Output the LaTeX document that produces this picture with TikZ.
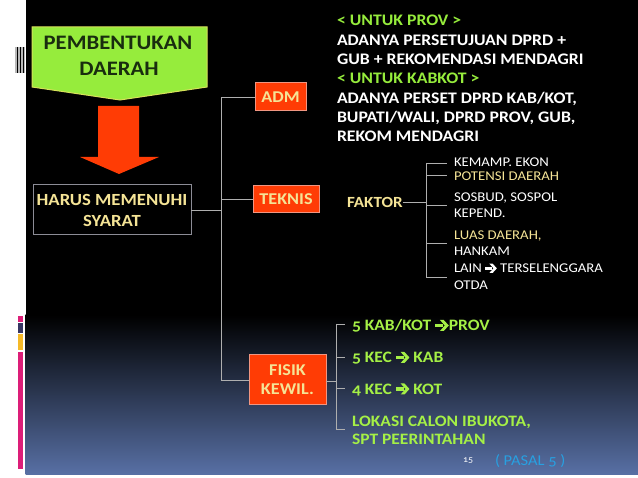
\documentclass[tikz,border=0pt]{standalone}
\usepackage{fontspec}
\setmainfont{Carlito}[FakeStretch=1.1,Numbers=OldStyle]
\usetikzlibrary{calc}
\definecolor{limeA}{RGB}{150,236,60}
\definecolor{limeB}{RGB}{165,240,70}
\definecolor{redA}{RGB}{255,60,5}
\definecolor{paleY}{RGB}{245,228,150}
\definecolor{lineG}{RGB}{175,175,175}
\definecolor{bluePas}{RGB}{40,160,225}
\definecolor{navy}{RGB}{88,112,165}
\definecolor{pinkA}{RGB}{220,30,120}
\definecolor{yelA}{RGB}{245,185,40}
% heavy right arrow drawn inline: #1 scale, #2 colour
\newcommand{\harr}[2]{\tikz[baseline=0pt,x=#1pt,y=#1pt]{\fill[#2] (0,3.8) rectangle (8,7.2);
  \fill[#2] (4.8,11) -- (8.6,11) -- (13.6,5.5) -- (8.6,0) -- (4.8,0) -- (9.6,5.5) -- cycle;}}
\begin{document}
\begin{tikzpicture}[x=1pt,y=-1pt,
  every node/.style={inner sep=0pt,outer sep=0pt},
  bigw/.style={font=\fontsize{16.1}{19}\selectfont\bfseries,anchor=base west,text=white},
  bigg/.style={font=\fontsize{16.1}{19}\selectfont\bfseries,anchor=base west,text=limeA},
  smw/.style={font=\fontsize{13.4}{16}\selectfont,anchor=base west,text=white},
  smy/.style={font=\fontsize{13.4}{16}\selectfont,anchor=base west,text=paleY},
  fis/.style={font=\fontsize{15.9}{19}\selectfont\bfseries,anchor=base west,text=limeB},
  redbox/.style={draw={rgb,255:red,240;green,150;blue,130},line width=1pt,fill=redA,text=paleY,
    font=\fontsize{16.5}{19}\selectfont\bfseries,align=center},
  conn/.style={draw=lineG,line width=0.9pt}
]
\useasboundingbox (0,0) rectangle (638,478);
% background
\fill[white] (0,0) rectangle (638,478);
\fill[black] (25.5,0) rectangle (638,316);
\shade[top color=black,bottom color=navy] (25.5,315) rectangle (638,475);
% left decorations
\fill[gray!55] (15,47) rectangle (25,73);
\foreach \xx in {17,20,23} \draw[black,line width=0.8pt] (\xx,47) -- (\xx,73);
\fill[pinkA] (17.5,316) rectangle (23,322);
\fill[gray!70!blue!60!black] (17.5,323.5) rectangle (23,333);
\fill[yelA] (17.5,334) rectangle (23,350);
\fill[pinkA] (17.5,352) rectangle (23,469);
% green pentagon
\draw[fill=limeA,draw={rgb,255:red,215;green,225;blue,90},line width=1pt]
  (32,27) -- (207,27) -- (207,87) -- (120,100) -- (32,87) -- cycle;
\node[anchor=base,font=\fontsize{20.6}{24}\selectfont\bfseries,text={rgb,255:red,25;green,45;blue,15}] (pem1) at (118,50) {PEMBENTUKAN};
\node[anchor=base,font=\fontsize{20.6}{24}\selectfont\bfseries,text={rgb,255:red,25;green,45;blue,15}] (pem2) at (119,76) {DAERAH};
% red arrow
\fill[redA] (98,106) -- (139,106) -- (139,157) -- (159,157) -- (119,174) -- (80,157) -- (98,157) -- cycle;
% HARUS box
\node[draw={rgb,255:red,140;green,140;blue,150},line width=1pt,minimum width=158pt,minimum height=50pt,fill=black] (harus) at (112,210) {};
\node[anchor=base,font=\fontsize{17}{19}\selectfont\bfseries,text=paleY] (harus1) at (112,206) {HARUS MEMENUHI};
\node[anchor=base,font=\fontsize{17}{19}\selectfont\bfseries,text=paleY] (harus2) at (112,227) {SYARAT};
% red boxes
\node[redbox,minimum width=51pt,minimum height=28pt] (adm) at (280.5,97) {ADM};
\node[redbox,minimum width=66pt,minimum height=27pt] (teknis) at (286,199.5) {TEKNIS};
\node[redbox,minimum width=77pt,minimum height=50pt] (fisik) at (287.5,380) {FISIK\\[0pt]KEWIL.};
% main connectors
\coordinate (jA) at (221,97);
\coordinate (jT) at (221,199.5);
\coordinate (jF) at (221,380);
\coordinate (jH) at (221,210);
\draw[conn] (adm.west) -- (jA) -- (jF) -- (fisik.west);
\draw[conn] (teknis.west) -- (jT);
\draw[conn] (harus.east) -- (jH);
% ADM text
\node[bigg] (t1) at (337,26) {< UNTUK PROV >};
\node[bigw] (t2) at (337,45.3) {ADANYA PERSETUJUAN DPRD +};
\node[bigw] (t3) at (337,64.6) {GUB + REKOMENDASI MENDAGRI};
\node[bigg] (t4) at (337,83.9) {< UNTUK KABKOT >};
\node[bigw] (t5) at (337,103.2) {ADANYA PERSET DPRD KAB/KOT,};
\node[bigw] (t6) at (337,122.5) {BUPATI/WALI, DPRD PROV, GUB,};
\node[bigw] (t7) at (337,141.8) {REKOM MENDAGRI};
% FAKTOR
\node[font=\fontsize{15.5}{18}\selectfont\bfseries,text=paleY,anchor=base west] (faktor) at (347,207.5) {FAKTOR};
\coordinate (fb) at (426,202);
\coordinate (fb1) at (426,163);
\coordinate (fb5) at (426,277);
\draw[conn] (faktor.east |- fb) -- (fb);
\draw[conn] (fb1) -- (fb5);
\foreach \yy/\nm in {163/f1,175/f2,205/f3,243/f4,277/f5}{
  \coordinate (\nm a) at (426,\yy);
  \coordinate (\nm b) at (447,\yy);
  \draw[conn] (\nm a) -- (\nm b);
}
\node[smw] (k1) at (454,167) {KEMAMP. EKON};
\node[smy] (k2) at (454,181) {POTENSI DAERAH};
\node[smw] (k3) at (454,202) {SOSBUD, SOSPOL};
\node[smw] (k4) at (454,217.5) {KEPEND.};
\node[smy] (k5) at (454,240) {LUAS DAERAH,};
\node[smw] (k6) at (454,256) {HANKAM};
\node[smw] (k7) at (454,273) {LAIN \harr{0.85}{white} TERSELENGGARA};
\node[smw] (k8) at (454,289.5) {OTDA};
% FISIK bracket
\coordinate (pb) at (336,381);
\coordinate (pb1) at (336,324);
\coordinate (pb4) at (336,429);
\draw[conn] (fisik.east |- pb) -- (pb);
\draw[conn] (pb1) -- (pb4);
\foreach \yy/\nm in {324/p1,357/p2,388/p3,429/p4}{
  \coordinate (\nm a) at (336,\yy);
  \coordinate (\nm b) at (345,\yy);
  \draw[conn] (\nm a) -- (\nm b);
}
\node[fis] (s1) at (352,331) {5 KAB/KOT \harr{1}{limeB}PROV};
\node[fis] (s2) at (352,363) {5 KEC \harr{1}{limeB} KAB};
\node[fis] (s3) at (352,394.5) {4 KEC \harr{1}{limeB} KOT};
\node[fis] (s4) at (352,427) {LOKASI CALON IBUKOTA,};
\node[fis] (s5) at (352,444.5) {SPT PEERINTAHAN};
% footer
\node[font=\fontsize{9}{11}\selectfont,text=white,anchor=base west] (pg) at (463,463) {15};
\node[font=\fontsize{15}{18}\selectfont,text=bluePas,anchor=base west] (pasal) at (495,466) {( PASAL 5 )};
\end{tikzpicture}
\end{document}
